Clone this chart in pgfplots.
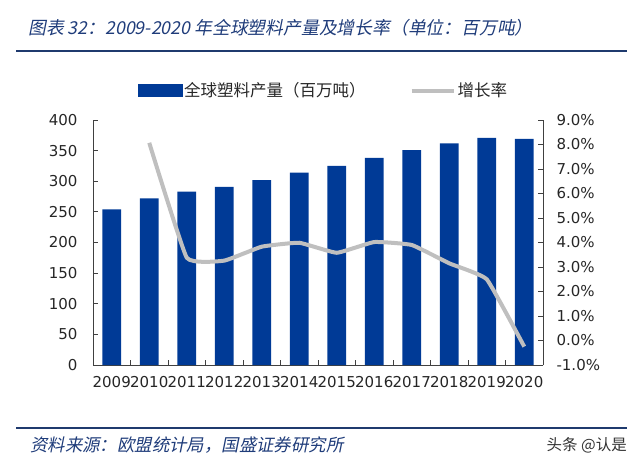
\documentclass[border=0pt]{standalone}
\usepackage{fontspec}
\usepackage{pgfplots}
\pgfplotsset{compat=1.18}
\setmainfont{DejaVu Sans}
\newfontfamily\cjk{Noto Sans CJK SC}
\newfontfamily\cjkit[FakeSlant=0.2]{Noto Sans CJK SC}
\definecolor{barblue}{HTML}{003A96}
\definecolor{linegray}{HTML}{BFBFBF}
\definecolor{titleblue}{HTML}{1F3C7A}
\definecolor{rulecol}{HTML}{1F3A6E}
\definecolor{axcol}{HTML}{404040}

\pgfplotstableread{
x prod
0 254
1 272
2 283
3 291
4 302
5 314
6 325
7 338
8 351
9 362
10 371
11 369
}\prodtable

\pgfplotstableread{
x rate
1 8.07
2 3.38
3 3.26
4 3.83
5 3.99
6 3.58
7 4.02
8 3.90
9 3.15
10 2.50
11 -0.25
}\ratetable

\begin{document}
\begin{tikzpicture}[x=1pt,y=1pt]
\useasboundingbox (0,0) rectangle (640,464);
\node[anchor=west, text=titleblue, font=\cjkit\fontsize{17.8}{20}\selectfont, inner sep=0] at (28,436) {图表 32：2009-2020 年全球塑料产量及增长率（单位：百万吨）};
\draw[rulecol, line width=2pt] (16,413) -- (627,413);
\draw[rulecol, line width=2pt] (16,36) -- (627,36);
\node[anchor=west, text=titleblue, font=\cjkit\fontsize{17.4}{19}\selectfont, inner sep=0] at (30,19) {资料来源：欧盟统计局，国盛证券研究所};
\node[anchor=east, text=black!80, font=\cjk\fontsize{15.5}{18}\selectfont, inner sep=0] at (627,19) {头条 @认是};

\begin{axis}[
  at={(93pt,99pt)}, anchor=south west,
  width=450pt, height=245pt, scale only axis,
  xmin=-0.5, xmax=11.5, ymin=0, ymax=400,
  ytick={0,50,...,400},
  xtick={0,...,11},
  xticklabels={2009,2010,2011,2012,2013,2014,2015,2016,2017,2018,2019,2020},
  minor xtick={-0.5,0.5,...,11.5},
  major x tick style={draw=none},
  axis x line*=bottom, axis y line*=left,
  axis line style={draw=axcol, line width=0.8pt, -},
  tick style={draw=axcol, line width=0.8pt},
  tick align=inside,
  major tick length=5pt, minor tick length=5pt,
  /pgf/number format/assume math mode=true,
  tick label style={font=\fontsize{15}{17}\selectfont, text=black!85},
  yticklabel style={xshift=-12pt},
  xticklabel style={yshift=-8pt},
]
\addplot[ybar, bar width=18.7pt, fill=barblue, draw=none] table[x=x,y=prod] {\prodtable};
\end{axis}

\begin{axis}[
  at={(93pt,99pt)}, anchor=south west,
  width=450pt, height=245pt, scale only axis,
  xmin=-0.5, xmax=11.5, ymin=-1, ymax=9,
  ytick={-1,0,...,9},
  axis x line=none, axis y line*=right,
  axis line style={draw=axcol, line width=0.8pt, -},
  tick style={draw=axcol, line width=0.8pt},
  tick align=inside,
  major tick length=5pt,
  /pgf/number format/assume math mode=true,
  tick label style={font=\fontsize{15}{17}\selectfont, text=black!85},
  yticklabel={\pgfmathprintnumber[fixed, fixed zerofill, precision=1]{\tick}\%},
  yticklabel style={xshift=10pt},
  legend style={at={(axis description cs:0.512,1.12)}, anchor=center, draw=none, fill=none,
    font=\cjk\fontsize{16.5}{19}\selectfont, text=black!85},
  legend columns=2,
  /tikz/every even column/.append style={column sep=42pt},
]
\addlegendimage{legend image code/.code={\fill[barblue] (0pt,-6pt) rectangle (44pt,6pt);}}
\addlegendentry{全球塑料产量（百万吨）}
\addplot[linegray, line width=4pt, smooth, tension=0.2, no markers,
  legend image code/.code={\draw[linegray, line width=4pt] (0pt,0pt) -- (42pt,0pt);}]
  table[x=x,y=rate] {\ratetable};
\addlegendentry{增长率}
\end{axis}
\end{tikzpicture}
\end{document}
